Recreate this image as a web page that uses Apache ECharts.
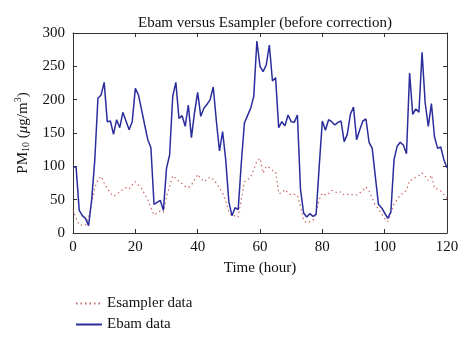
<!DOCTYPE html>
<html>
<head>
<meta charset="utf-8">
<script src="https://cdn.jsdelivr.net/npm/echarts@6/dist/echarts.min.js"></script>
<style>
  html, body { margin: 0; padding: 0; background: #fff; }
  #main { width: 474px; height: 343px; }
</style>
</head>
<body>
<div id="main"></div>
<script>
// Ebam versus Esampler - hourly PM10, hours 0..120
var ebam = [100, 98, 34, 26, 22, 11, 50, 110, 202, 207, 226, 167, 168, 148, 170, 158, 181, 168, 155, 167,
    217, 207, 185, 162, 140, 128, 43, 46, 49, 34, 97, 117, 205, 226, 172, 176, 160, 192, 143, 181,
    211, 175, 187, 193, 200, 219, 168, 123, 152, 110, 47, 26, 38, 35, 105, 165, 176, 187, 205, 288,
    250, 242, 252, 282, 228, 233, 158, 167, 161, 177, 167, 166, 177, 65, 30, 24, 29, 25, 28, 100,
    168, 154, 170, 167, 162, 166, 168, 137, 148, 178, 189, 140, 155, 168, 171, 136, 127, 85, 43, 38,
    30, 22, 32, 110, 130, 136, 132, 119, 240, 178, 186, 181, 271, 195, 160, 194, 144, 127, 129, 110, 98];
var esampler = [35, 22, 12, 12, 12, 24, 45, 68, 80, 85, 75, 67, 60, 55, 58, 62, 65, 68, 66, 72,
    77, 72, 67, 58, 50, 38, 27, 30, 33, 31, 55, 70, 86, 82, 77, 74, 70, 68, 72, 80,
    88, 82, 77, 80, 84, 80, 75, 68, 60, 48, 32, 25, 26, 24, 50, 77, 80, 84, 95, 108,
    112, 90, 100, 98, 94, 92, 59, 60, 65, 60, 57, 58, 57, 40, 19, 15, 17, 19, 29, 50,
    60, 57, 59, 64, 62, 60, 62, 57, 58, 57, 58, 57, 60, 64, 69, 63, 52, 42, 36, 29,
    22, 17, 30, 44, 50, 57, 60, 64, 79, 80, 84, 86, 90, 85, 79, 87, 67, 66, 63, 58, 52];
var xTicks = [0, 20, 40, 60, 80, 100, 120];
var yTicks = [0, 50, 100, 150, 200, 250, 300];

function pairs(arr) {
    return arr.map(function (v, i) { return [i, v]; });
}

var font = '"Liberation Serif", "DejaVu Serif", serif';
var chart = echarts.init(document.getElementById('main'));

var boxAxis = {
    axisLine: { show: true, onZero: false, lineStyle: { color: '#333', width: 1 } },
    axisTick: { show: true, inside: true, length: 4, lineStyle: { color: '#333' } },
    axisLabel: { show: false },
    splitLine: { show: false }
};

var option = {
    animation: false,
    backgroundColor: '#fff',
    title: {
        text: 'Ebam versus Esampler (before correction)',
        left: 260,
        textAlign: 'center',
        top: 11,
        textStyle: { fontFamily: font, fontSize: 15, fontWeight: 'normal', color: '#111' }
    },
    legend: {
        orient: 'vertical',
        left: 70,
        top: 291,
        itemWidth: 26,
        itemHeight: 14,
        itemGap: 6,
        itemStyle: { opacity: 0 },
        data: ['Esampler data', 'Ebam data'],
        textStyle: { fontFamily: font, fontSize: 15, color: '#111' }
    },
    grid: { left: 73, right: 27, top: 33, bottom: 110 },
    xAxis: [
        Object.assign({
            type: 'value', min: 0, max: 120, interval: 20, position: 'bottom',
            name: 'Time (hour)', nameLocation: 'middle', nameGap: 28,
            nameTextStyle: { fontFamily: font, fontSize: 15, color: '#111' }
        }, boxAxis, {
            axisLabel: { show: true, fontFamily: font, fontSize: 15, color: '#111', margin: 7,
                formatter: function (v) { return xTicks.indexOf(v) >= 0 ? v : ''; } }
        }),
        Object.assign({ type: 'value', min: 0, max: 120, interval: 20, position: 'top' }, boxAxis)
    ],
    yAxis: [
        Object.assign({
            type: 'value', min: 0, max: 300, interval: 50, position: 'left',
            name: '{n|PM}{s|10}{n| (}{i|μ}{n|g/m}{p|3}{n|)}', nameLocation: 'middle', nameGap: 39,
            nameTextStyle: {
                fontFamily: font, fontSize: 15, color: '#111',
                rich: {
                    n: { fontFamily: font, fontSize: 15, color: '#111' },
                    i: { fontFamily: font, fontSize: 15, fontStyle: 'italic', color: '#111' },
                    s: { fontFamily: font, fontSize: 10, color: '#111', verticalAlign: 'bottom', padding: [6, 0, 0, 0] },
                    p: { fontFamily: font, fontSize: 10, color: '#111', verticalAlign: 'top', padding: [0, 0, 8, 0] }
                }
            }
        }, boxAxis, {
            axisLabel: { show: true, fontFamily: font, fontSize: 15, color: '#111', margin: 8,
                formatter: function (v) { return yTicks.indexOf(v) >= 0 ? v : ''; } }
        }),
        Object.assign({ type: 'value', min: 0, max: 300, interval: 50, position: 'right' }, boxAxis)
    ],
    series: [
        {
            name: 'Esampler data',
            type: 'line',
            data: pairs(esampler),
            symbol: 'none',
            color: '#cc6666',
            lineStyle: { color: '#cc6666', width: 1.2, type: [1.5, 3] }
        },
        {
            name: 'Ebam data',
            type: 'line',
            data: pairs(ebam),
            symbol: 'none',
            color: '#2a2d9c',
            lineStyle: { color: '#2a2d9c', width: 1.5 }
        }
    ]
};
chart.setOption(option);
</script>
</body>
</html>
